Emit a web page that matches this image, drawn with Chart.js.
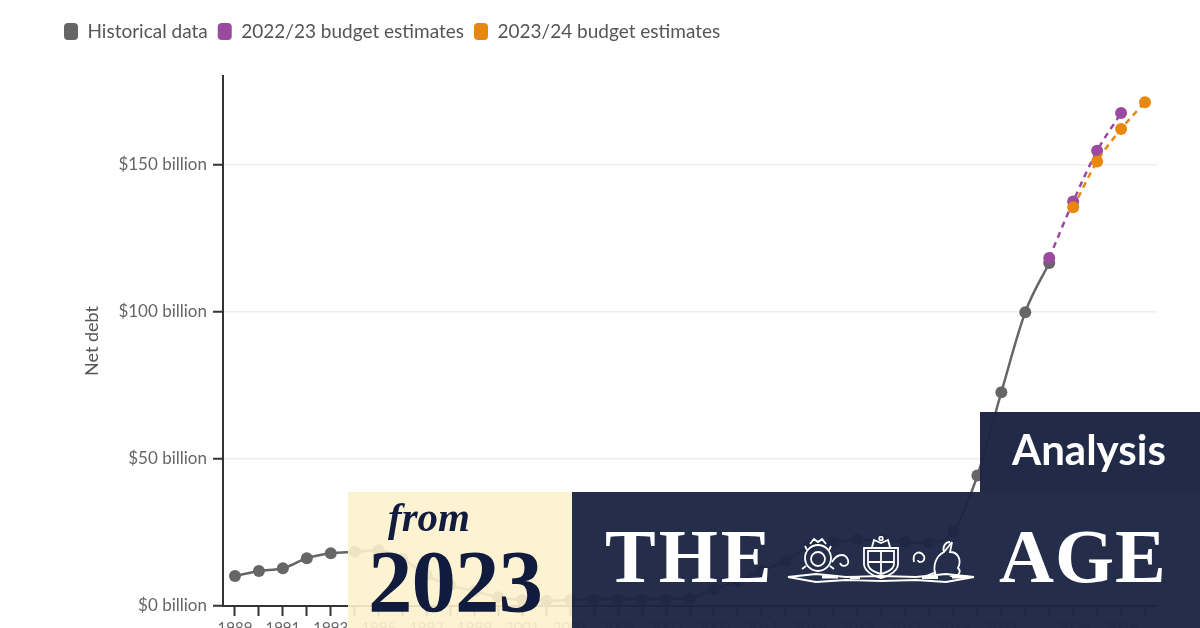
<!DOCTYPE html>
<html>
<head>
<meta charset="utf-8">
<script src="https://cdn.jsdelivr.net/npm/chart.js@4.4.0/dist/chart.umd.min.js"></script>
<style>
  html,body{margin:0;padding:0;width:1200px;height:628px;overflow:hidden;background:#fff;}
  #wrap{position:absolute;left:0;top:0;width:1200px;height:640px;}
  .ov{position:absolute;}
  #cream{left:348px;top:492px;width:224px;height:136px;background:rgba(253,242,205,0.9);}
  #navy{left:572px;top:492px;width:628px;height:136px;background:rgba(28,38,68,0.965);}
  #analysisBox{left:980px;top:412px;width:220px;height:80px;background:rgba(28,38,68,0.975);}
  #from{left:388px;top:497px;font-family:"Liberation Serif",serif;font-style:italic;font-weight:700;font-size:41px;color:#101b3d;line-height:1;}
  #yr{left:368px;top:537px;font-family:"Liberation Serif",serif;font-weight:700;font-size:89px;color:#101b3d;line-height:1;letter-spacing:-1px;}
  #the{left:605px;top:518px;font-family:"Liberation Serif",serif;font-weight:700;font-size:76px;color:#fff;line-height:1;letter-spacing:3px;}
  #age{left:999px;top:518px;font-family:"Liberation Serif",serif;font-weight:700;font-size:76px;color:#fff;line-height:1;letter-spacing:1px;}
  #analysis{left:1012px;top:428px;font-family:Lato,sans-serif;font-weight:700;font-size:42px;color:#fff;line-height:1;}
  #crest{left:786px;top:536px;}
</style>
</head>
<body>
<div id="wrap"><canvas id="c"></canvas></div>
<div class="ov" id="cream"></div>
<div class="ov" id="navy"></div>
<div class="ov" id="analysisBox"></div>
<div class="ov" id="from">from</div>
<div class="ov" id="yr">2023</div>
<div class="ov" id="the">THE</div>
<div class="ov" id="age">AGE</div>
<div class="ov" id="analysis">Analysis</div>
<svg class="ov" id="crest" width="190" height="50" viewBox="0 0 190 50">
  <g fill="none" stroke="#fff" stroke-width="1.8">
    <path d="M2 41 L30 38 L60 41 L95 40 L130 41 L160 38 L188 41 L160 46 L130 44 L95 45 L60 44 L30 46 Z"/>
    <circle cx="32" cy="22" r="13"/>
    <circle cx="32" cy="23" r="7"/>
    <path d="M21 14 L19 10 M43 14 L45 10 M20 30 L16 33 M44 30 L48 33"/>
    <path d="M24 8 L28 3 L32 6 L36 3 L40 8"/>
    <path d="M46 26 C52 16 60 18 62 24 C64 30 56 32 54 27"/>
    <path d="M78 12 L112 12 L112 28 C112 38 95 42 95 42 C95 42 78 38 78 28 Z"/>
    <path d="M82 15 L108 15 L108 28 C108 35 95 38 95 38 C95 38 82 35 82 28 Z"/>
    <path d="M95 15 L95 38 M82 26 L108 26"/>
    <path d="M86 11 L88 4 L95 7 L102 4 L104 11"/>
    <circle cx="95" cy="2.5" r="1.8"/>
    <path d="M128 26 C126 16 134 14 138 20 C140 26 132 28 132 24"/>
    <path d="M150 40 C146 30 150 20 158 16 L166 6 L164 16 C172 16 176 24 172 32 C176 36 172 42 164 40"/>
    <path d="M158 16 C156 10 160 6 164 6"/>
    <path d="M150 36 L140 40"/>
  </g>
  <g fill="#fff">
    <rect x="36" y="39.5" width="16" height="3"/>
    <rect x="64" y="40" width="10" height="3"/>
    <rect x="136" y="40" width="16" height="3"/>
    <rect x="166" y="39.5" width="16" height="3"/>
  </g>
</svg>
<script>
const years = [];
for (let y = 1989; y <= 2027; y++) years.push(String(y));

const labeledYears = ['1989','1991','1993','1995','1997','1999','2001','2003','2005','2007','2009','2011','2013','2015','2017','2019','2021','2024','2026'];

const historical = [10.2, 11.9, 12.8, 16.2, 17.9, 18.4, 18.9, 16.0, 10.5, 7.0,
                    5.0, 3.0, 2.0, 1.8, 2.0, 2.3, 2.3, 2.3, 2.3, 2.6,
                    5.7, 8.5, 11.9, 15.3, 20.4, 21.5, 22.6, 22.3, 21.7, 21.5,
                    25.4, 44.3, 72.6, 99.8, 116.5, null, null, null, null];

const budget2223 = [null, null, null, null, null, null, null, null, null, null,
                    null, null, null, null, null, null, null, null, null, null,
                    null, null, null, null, null, null, null, null, null, null,
                    null, null, null, null, 118.2, 137.4, 154.6, 167.4, null];

const budget2324 = [null, null, null, null, null, null, null, null, null, null,
                    null, null, null, null, null, null, null, null, null, null,
                    null, null, null, null, null, null, null, null, null, null,
                    null, null, null, null, null, 135.4, 151.0, 162.0, 171.1];

const yTickValues = [0, 50, 100, 150];

const legendSpacer = {
  id: 'legendSpacer',
  beforeInit(chart) {
    const origFit = chart.legend.fit;
    chart.legend.fit = function () {
      origFit.bind(chart.legend)();
      this.height += 25;
    };
  }
};

new Chart(document.getElementById('c'), {
  type: 'line',
  data: {
    labels: years,
    datasets: [
      {
        label: 'Historical data', data: historical, order: 3,
        borderColor: '#666666', backgroundColor: '#666666',
        borderWidth: 2.5, pointRadius: 6, pointHoverRadius: 6,
        pointBackgroundColor: '#666666', pointBorderWidth: 0,
        cubicInterpolationMode: 'monotone', spanGaps: false
      },
      {
        label: '2022/23 budget estimates', data: budget2223, order: 2,
        borderColor: '#9b4aa0', backgroundColor: '#9b4aa0',
        borderWidth: 2.5, borderDash: [6, 5], pointRadius: 6, pointHoverRadius: 6,
        pointBackgroundColor: '#9b4aa0', pointBorderWidth: 0,
        cubicInterpolationMode: 'monotone'
      },
      {
        label: '2023/24 budget estimates', data: budget2324, order: 1,
        borderColor: '#e8870e', backgroundColor: '#e8870e',
        borderWidth: 2.5, borderDash: [6, 5], pointRadius: 6, pointHoverRadius: 6,
        pointBackgroundColor: '#e8870e', pointBorderWidth: 0,
        cubicInterpolationMode: 'monotone'
      }
    ]
  },
  options: {
    responsive: true,
    maintainAspectRatio: false,
    animation: false,
    layout: { padding: { left: 54, right: 43, top: 12, bottom: 0 } },
    plugins: {
      tooltip: { enabled: false },
      legend: {
        position: 'top',
        align: 'start',
        labels: {
          font: { family: 'Lato', size: 19 },
          color: '#555',
          boxWidth: 14, boxHeight: 17,
          useBorderRadius: true, borderRadius: 4,
          padding: 10,
          sort: (a, b) => a.datasetIndex - b.datasetIndex,
          generateLabels: (chart) => {
            const items = Chart.defaults.plugins.legend.labels.generateLabels(chart);
            items.forEach(it => { it.lineWidth = 0; it.lineDash = []; it.strokeStyle = it.fillStyle; });
            return items;
          }
        }
      }
    },
    scales: {
      x: {
        type: 'category',
        offset: true,
        border: { display: true, color: '#333', width: 2 },
        grid: { drawOnChartArea: false, drawTicks: true, tickLength: 10, tickColor: '#333', tickWidth: 2 },
        ticks: {
          autoSkip: false, maxRotation: 0, minRotation: 0, padding: 3,
          font: { family: 'Lato', size: 15 }, color: '#666',
          callback: function (val, idx) {
            const lbl = years[idx];
            return labeledYears.includes(lbl) ? lbl : '';
          }
        }
      },
      y: {
        min: 0, max: 180,
        afterBuildTicks: (s) => { s.ticks = yTickValues.map(v => ({ value: v })); },
        afterFit: (s) => { s.width = 169; },
        border: { display: true, color: '#333', width: 2 },
        grid: { color: '#eeeeee', lineWidth: 1.5, drawTicks: true, tickLength: 10, tickColor: '#333', tickWidth: 2 },
        ticks: {
          padding: 6,
          font: { family: 'Lato', size: 17 }, color: '#666',
          callback: (v) => '$' + v + ' billion'
        },
        title: {
          display: true, text: 'Net debt',
          font: { family: 'Lato', size: 18 }, color: '#555',
          padding: { top: 27, bottom: 0 }
        }
      }
    }
  },
  plugins: [legendSpacer]
});
</script>
</body>
</html>
